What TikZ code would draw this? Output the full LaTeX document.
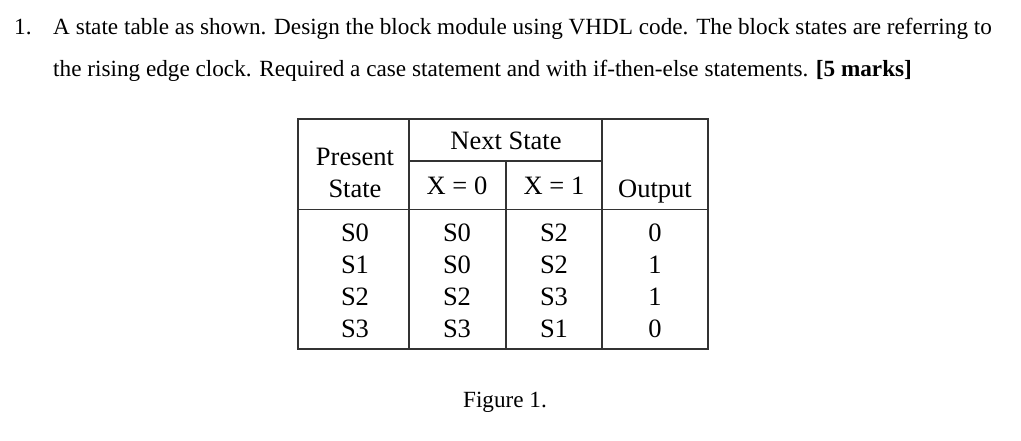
\documentclass[tikz,border=0pt]{standalone}
\usepackage{fontspec}
\setmainfont{Liberation Serif}
\begin{document}
\begin{tikzpicture}[x=1pt,y=-1pt,
  txt/.style={inner sep=0pt,font=\fontsize{23.2}{27}\selectfont},
  cell/.style={inner sep=0pt,anchor=base,font=\fontsize{26.5}{30}\selectfont},
  ln/.style={line width=1.5pt,draw=black!80}]
\useasboundingbox (0,0) rectangle (1021,440);
\node[txt,anchor=base west] (num) at (14,34) {1.};
\node[txt,anchor=base west] (l1) at (53,34) {A state table as shown. Design the block module using VHDL code. The block states are referring to};
\node[txt,anchor=base west] (l2) at (53,76) {the rising edge clock. Required a case statement and with if-then-else statements. \textbf{[5 marks]}};
% table
\draw[ln] (298,119) rectangle (708,349);
\draw[ln] (409,119) -- (409,349);
\draw[ln] (506,161) -- (506,349);
\draw[ln] (602,119) -- (602,349);
\draw[ln] (409,161) -- (602,161);
\draw[ln] (298,209.5) -- (708,209.5);
\node[cell] (p1) at (355,165) {Present};
\node[cell] (p2) at (355,197) {State};
\node[cell] (ns) at (506,149) {Next State};
\node[cell] (x0) at (457,194) {X = 0};
\node[cell] (x1) at (554,194) {X = 1};
\node[cell] (out) at (655,197) {Output};
\foreach \r/\y/\a/\b/\c/\o in {0/241/S0/S0/S2/0,1/273/S1/S0/S2/1,2/305/S2/S2/S3/1,3/337/S3/S3/S1/0}{
  \node[cell] (a\r) at (355,\y) {\a};
  \node[cell] (b\r) at (457,\y) {\b};
  \node[cell] (c\r) at (554,\y) {\c};
  \node[cell] (o\r) at (655,\y) {\o};
}
\node[cell,font=\fontsize{23.2}{27}\selectfont] (fig) at (505,407) {Figure 1.};
\end{tikzpicture}
\end{document}
